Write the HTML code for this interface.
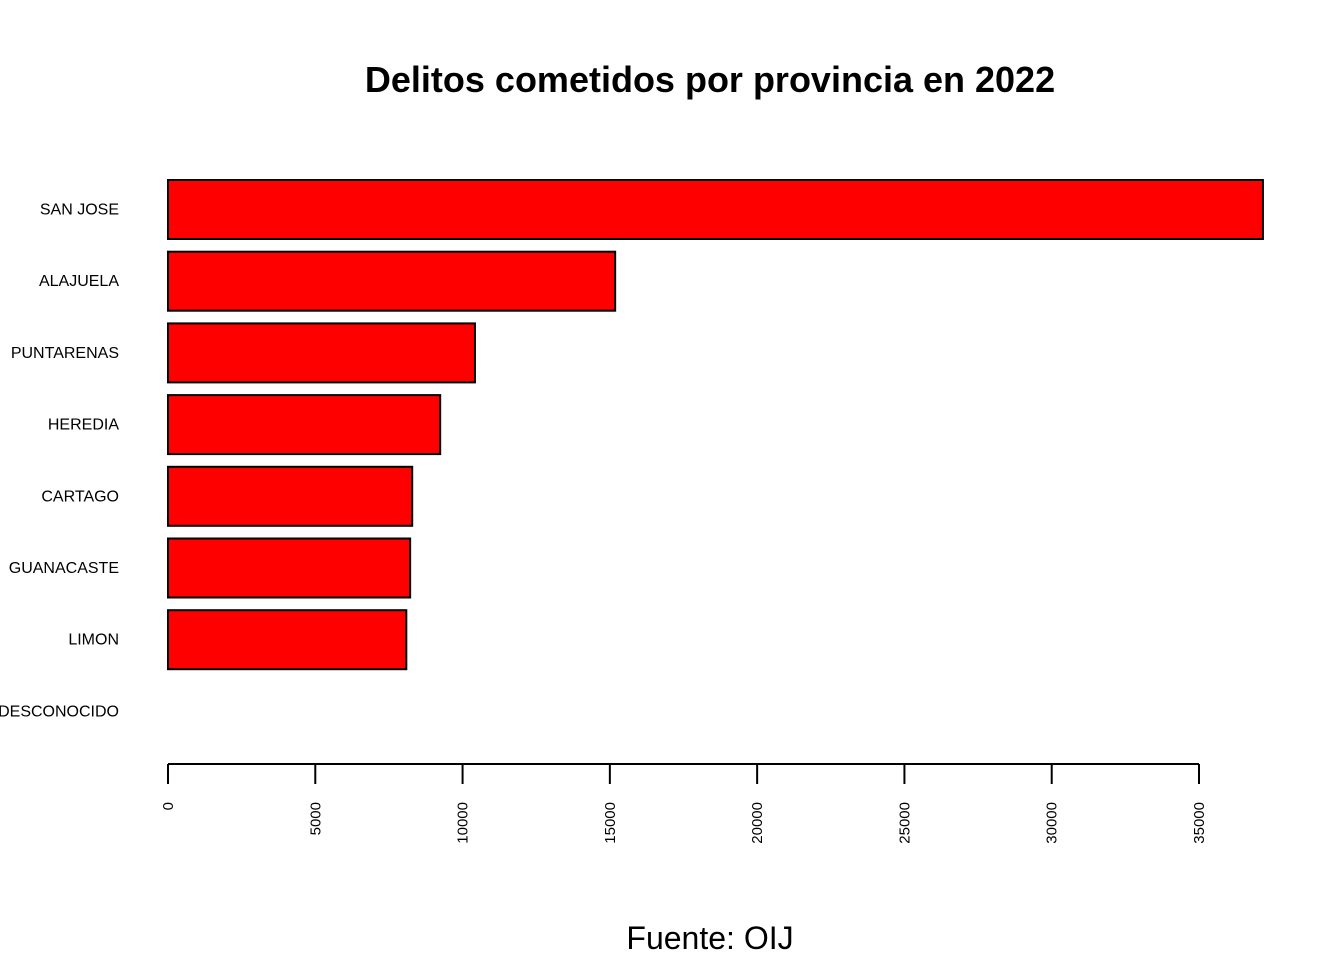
<!DOCTYPE html>
<html><head><meta charset="utf-8"><style>
body{margin:0;background:#fff}
svg{display:block;font-family:"Liberation Sans",Arial,sans-serif}
</style></head><body>
<svg id="chart" width="1344" height="960" viewBox="0 0 1344 960">
<rect width="1344" height="960" fill="#fff"/>
<text x="710" y="92" text-anchor="middle" font-size="36" font-weight="bold">Delitos cometidos por provincia en 2022</text>
<text x="710" y="949" text-anchor="middle" font-size="32">Fuente: OIJ</text>
<g id="bars"></g>
<g id="axis"></g>
</svg>
<script>
const categories = ["SAN JOSE","ALAJUELA","PUNTARENAS","HEREDIA","CARTAGO","GUANACASTE","LIMON","DESCONOCIDO"];
const values = [37170, 15180, 10420, 9240, 8290, 8220, 8090, 0];
const ticks = [0,5000,10000,15000,20000,25000,30000,35000];
const NS="http://www.w3.org/2000/svg";
const x0=168, pxPer=(1199-168)/35000;
const xs=v=>x0+v*pxPer;
const rowTop=i=>180+i*71.7, bh=59;
const gb=document.getElementById('bars'), ga=document.getElementById('axis');
categories.forEach((c,i)=>{
  const r=document.createElementNS(NS,'rect');
  r.setAttribute('x',x0);r.setAttribute('y',rowTop(i));
  r.setAttribute('width',Math.max(0,xs(values[i])-x0));r.setAttribute('height',bh);
  r.setAttribute('fill','#ff0000');r.setAttribute('stroke','#000');r.setAttribute('stroke-width','2');
  
  
  gb.appendChild(r);
  const t=document.createElementNS(NS,'text');
  t.setAttribute('x',119);t.setAttribute('y',rowTop(i)+bh/2+5);
  t.setAttribute('text-anchor','end');t.setAttribute('font-size','16');
  t.textContent=c;
  
  
  gb.appendChild(t);
});
const al=document.createElementNS(NS,'line');
al.setAttribute('x1',xs(ticks[0]));al.setAttribute('x2',xs(ticks[ticks.length-1]));
al.setAttribute('y1',764);al.setAttribute('y2',764);al.setAttribute('stroke','#000');al.setAttribute('stroke-width','2');


ga.appendChild(al);
ticks.forEach(v=>{
  const x=xs(v);
  const l=document.createElementNS(NS,'line');
  l.setAttribute('x1',x);l.setAttribute('x2',x);l.setAttribute('y1',764);l.setAttribute('y2',784);
  l.setAttribute('stroke','#000');l.setAttribute('stroke-width','2');
  
  
  ga.appendChild(l);
  const t=document.createElementNS(NS,'text');
  t.setAttribute('transform',`translate(${x+5},802) rotate(-90)`);
  t.setAttribute('text-anchor','end');t.setAttribute('font-size','15');
  t.textContent=v;
  
  
  ga.appendChild(t);
});
</script>
</body></html>
